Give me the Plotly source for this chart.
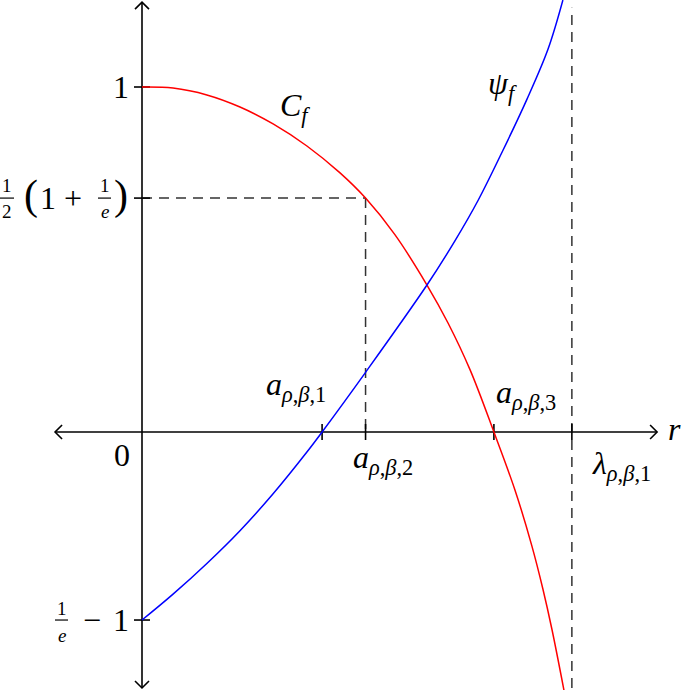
import plotly.graph_objects as go

# C_f (red curve)
cf_r = [0.000, 0.090, 0.188, 0.284, 0.380, 0.478, 0.574, 0.648, 0.733, 0.826,
        0.887, 0.951, 1.020, 1.081, 1.130, 1.162, 1.188, 1.223]
cf_v = [1.000, 0.997, 0.977, 0.942, 0.893, 0.829, 0.751, 0.678, 0.572, 0.426,
        0.316, 0.180, 0.000, -0.168, -0.330, -0.455, -0.571, -0.748]

# psi_f (blue curve)
psi_r = [0.000, 0.090, 0.188, 0.284, 0.380, 0.478, 0.522, 0.648, 0.826, 0.907,
         0.974, 1.046, 1.116, 1.177, 1.220]
psi_v = [-0.545, -0.470, -0.381, -0.286, -0.179, -0.058, 0.000, 0.173, 0.426, 0.554,
         0.671, 0.816, 0.965, 1.110, 1.252]

# marked points
a1, a2, a3 = 0.522, 0.648, 1.020
lam1 = 1.246
y_one = 1.0
y_half = 0.678      # 1/2 (1 + 1/e)
y_psi0 = -0.545     # 1/e - 1

# axis extents
r_min, r_max = -0.252, 1.493
v_min, v_max = -0.742, 1.246

PX = 345.0  # pixels per unit
FONT = "Liberation Serif"
BLACK = "#000000"
DASH = "#333333"

fig = go.Figure()


def seg(xs, ys, color=BLACK, width=1.6, dash=None):
    fig.add_trace(go.Scatter(x=xs, y=ys, mode="lines", hoverinfo="skip",
                             line=dict(color=color, width=width, dash=dash),
                             showlegend=False))


# axes
seg([r_min, r_max], [0, 0])
seg([0, 0], [v_min, v_max])
h = 7 / PX
seg([r_max - h, r_max, r_max - h], [h, 0, -h])
seg([r_min + h, r_min, r_min + h], [h, 0, -h])
seg([-h, 0, h], [v_max - h, v_max, v_max - h])
seg([-h, 0, h], [v_min + h, v_min, v_min + h])

# dashed guides
seg([0, a2], [y_half, y_half], DASH, 1.5, "10px,7px")
seg([a2, a2], [y_half, 0], DASH, 1.5, "10px,7px")
seg([lam1, lam1], [v_min, 1.23], DASH, 1.5, "10px,7px")

# ticks
t = 8 / PX
for xv in [a1, a2, a3, lam1]:
    seg([xv, xv], [-t, t])
for yv in [y_one, y_half, y_psi0]:
    seg([-t, t], [yv, yv])

# curves
fig.add_trace(go.Scatter(x=cf_r, y=cf_v, mode="lines", line_shape="spline",
                         line=dict(color="#ff0000", width=1.5), showlegend=False))
fig.add_trace(go.Scatter(x=psi_r, y=psi_v, mode="lines", line_shape="spline",
                         line=dict(color="#0000ff", width=1.5), showlegend=False))


def label(x, y, text, dx=0, dy=0, size=32, xanchor="center"):
    fig.add_annotation(x=x, y=y, text=text, showarrow=False, xshift=dx, yshift=dy,
                       xanchor=xanchor, yanchor="middle",
                       font=dict(family=FONT, size=size, color=BLACK))


sub = "<i>ρ</i>,<i>β</i>,"
label(0, y_one, "1", dx=-21, dy=0)
label(0, 0, "0", dx=-20, dy=-23)
label(a1, 0, "<i>a</i><sub>" + sub + "1</sub>", dx=-26, dy=46)
label(a2, 0, "<i>a</i><sub>" + sub + "2</sub>", dx=17, dy=-27)
label(a3, 0, "<i>a</i><sub>" + sub + "3</sub>", dx=32, dy=38)
label(lam1, 0, "<i>λ</i><sub>" + sub + "1</sub>", dx=50, dy=-33)
label(r_max, 0, "<i>r</i>", dx=17, dy=3)
label(0.443, 0.929, "<i>C</i><sub><i>f</i></sub>", dy=4)
label(1.045, 0.994, "<i>ψ</i><sub><i>f</i></sub>", dy=4)

# 1/2 (1 + 1/e)
small = 19
label(0, y_half, "1", dx=-135, dy=13, size=small)
label(0, y_half, "2", dx=-135, dy=-13, size=small)
label(0, y_half, "(", dx=-111, dy=3, size=42)
label(0, y_half, "1", dx=-94, dy=0)
label(0, y_half, "+", dx=-69, dy=0)
label(0, y_half, "1", dx=-37, dy=13, size=small)
label(0, y_half, "<i>e</i>", dx=-37, dy=-13, size=small)
label(0, y_half, ")", dx=-21, dy=3, size=42)
seg([-142 / PX, -128 / PX], [y_half, y_half], BLACK, 1.2)
seg([-44 / PX, -31 / PX], [y_half, y_half], BLACK, 1.2)

# 1/e - 1
label(0, y_psi0, "1", dx=-80, dy=12, size=small)
label(0, y_psi0, "<i>e</i>", dx=-80, dy=-15, size=small)
label(0, y_psi0, "−", dx=-50, dy=0)
label(0, y_psi0, "1", dx=-21, dy=0)
seg([-87 / PX, -74 / PX], [y_psi0, y_psi0], BLACK, 1.2)

fig.update_layout(
    width=685, height=690,
    margin=dict(l=0, r=0, t=0, b=0),
    paper_bgcolor="white", plot_bgcolor="white",
    xaxis=dict(visible=False, range=[-142 / PX, 543 / PX]),
    yaxis=dict(visible=False, range=[-258 / PX, 432 / PX]),
    showlegend=False,
)

fig.write_html("out.html", config={"displayModeBar": False},
               post_script="document.body.style.margin='0';")
